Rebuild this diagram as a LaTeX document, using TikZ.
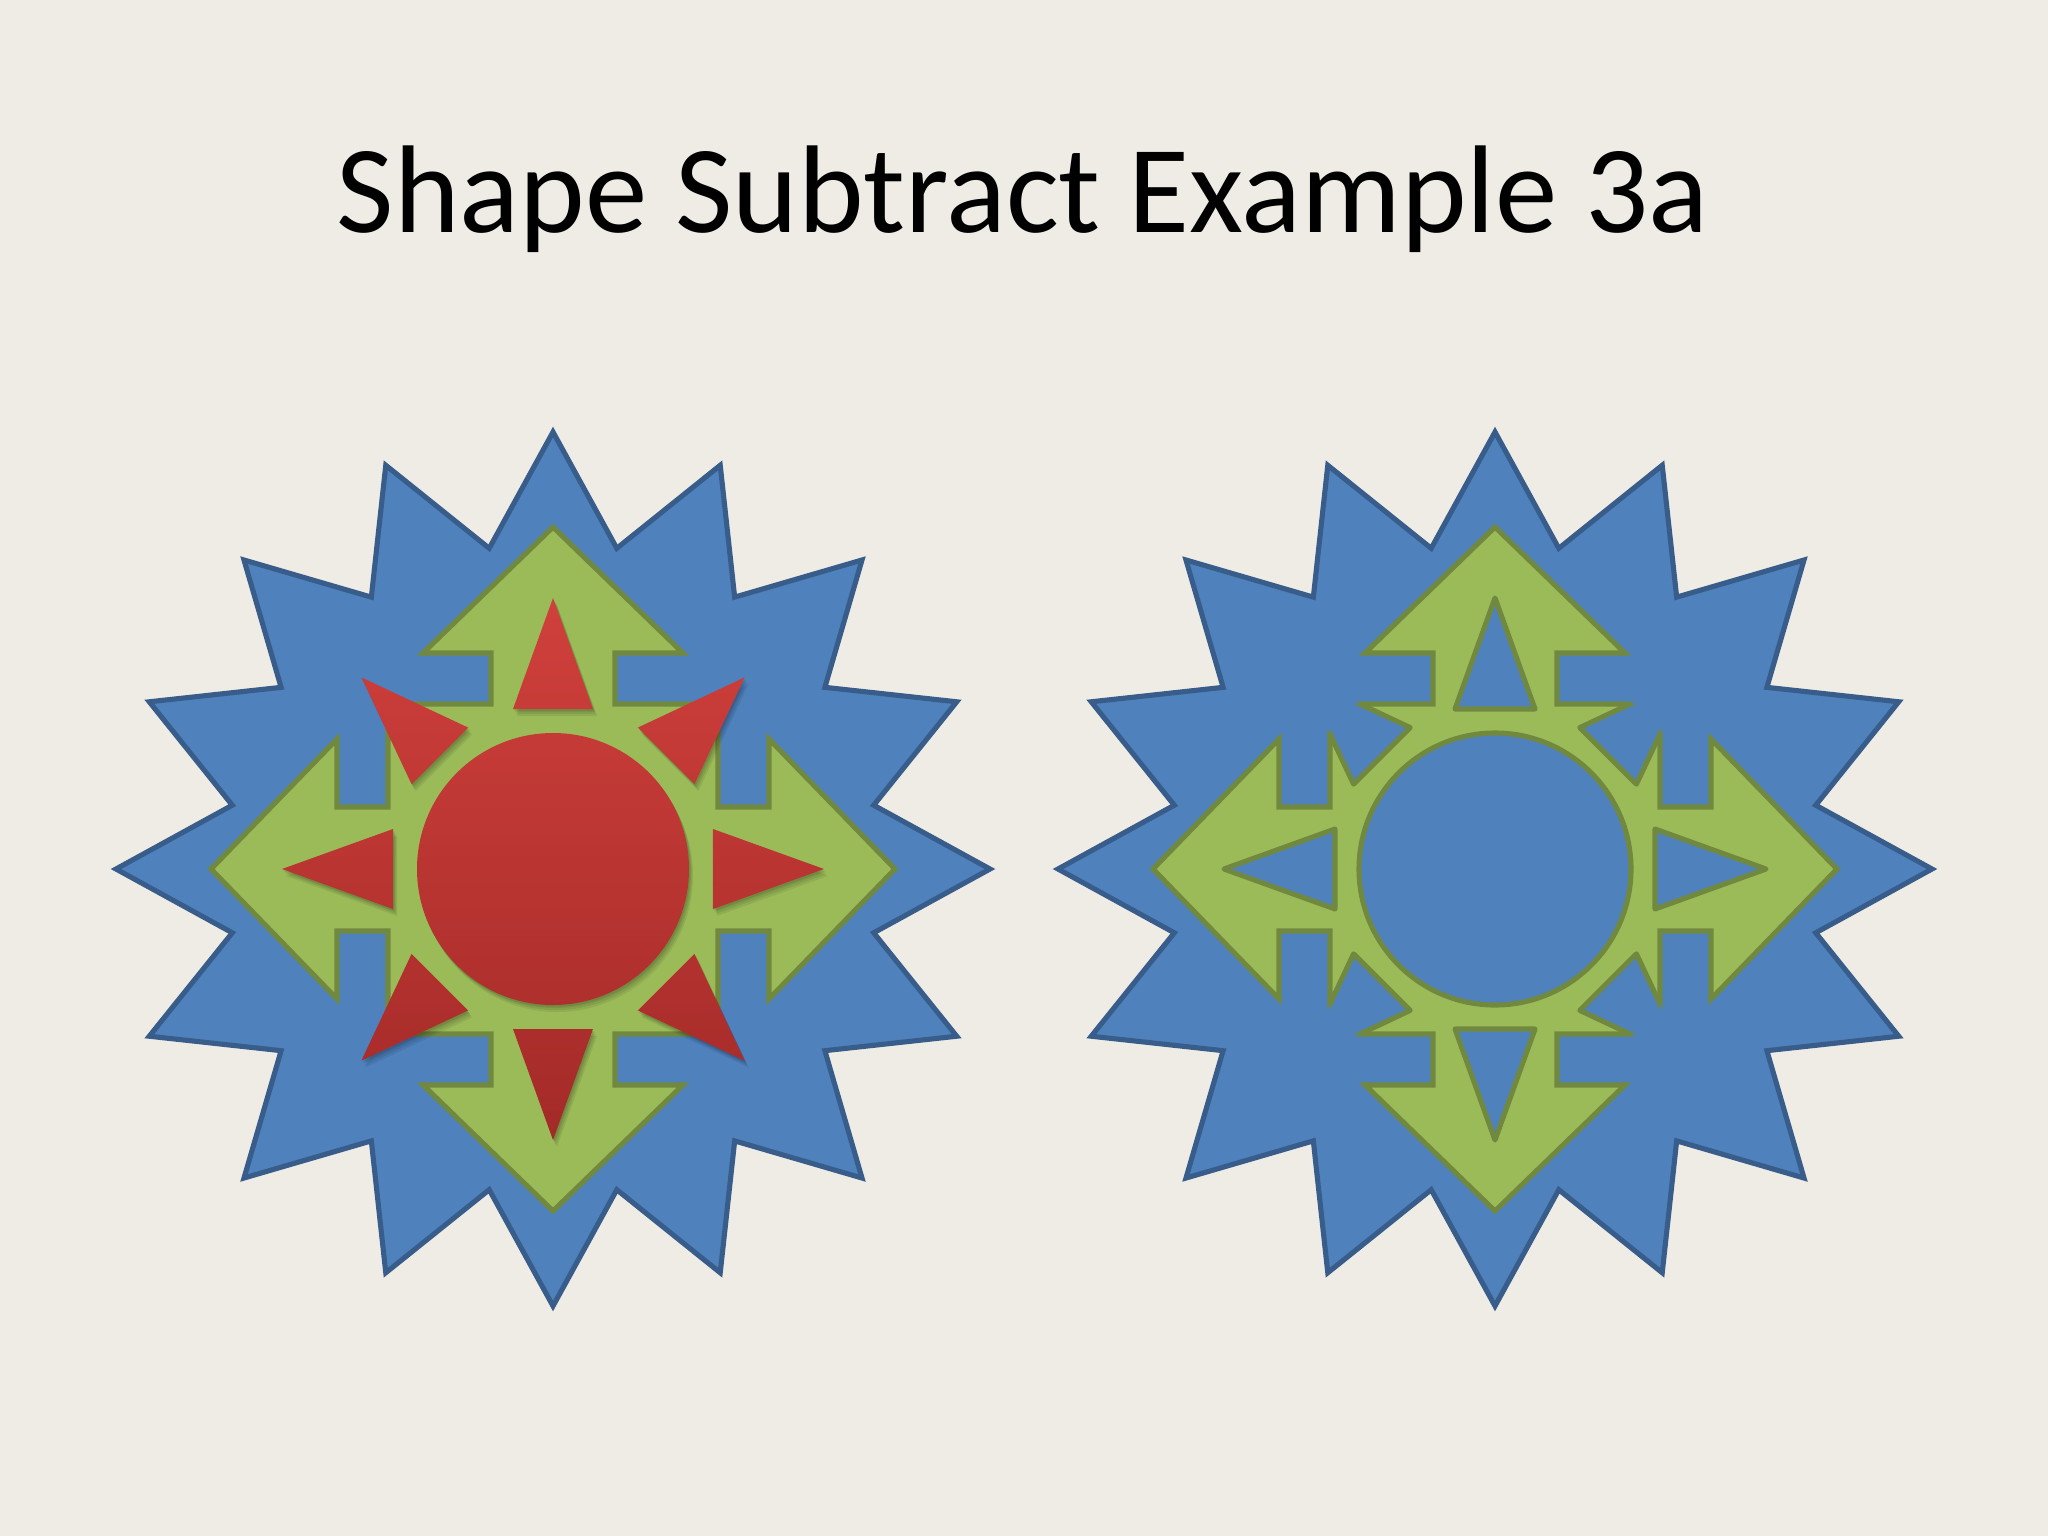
\documentclass[tikz,border=0pt]{standalone}
\usepackage{fontspec}
\setmainfont{Carlito}
\definecolor{bgcol}{RGB}{239,236,229}
\definecolor{starblue}{RGB}{79,129,189}
\definecolor{starline}{RGB}{56,93,138}
\definecolor{arrowgreen}{RGB}{155,187,89}
\definecolor{arrowline}{RGB}{113,137,63}
\definecolor{redtop}{RGB}{208,64,60}
\definecolor{redbot}{RGB}{163,42,40}
\newcommand\starP{(90:437) \foreach \i in {1,...,16} {-- (90+\i*22.5-11.25:327) -- (90+\i*22.5:437)} -- cycle}
\newcommand\greenP{(0,-342) -- (130,-216) -- (62,-216) -- (62,-165) -- (165,-165) -- (165,-62) -- (216,-62) -- (216,-130) -- (342,0) -- (216,130) -- (216,62) -- (165,62) -- (165,165) -- (62,165) -- (62,216) -- (130,216) -- (0,342) -- (-130,216) -- (-62,216) -- (-62,165) -- (-165,165) -- (-165,62) -- (-216,62) -- (-216,130) -- (-342,0) -- (-216,-130) -- (-216,-62) -- (-165,-62) -- (-165,-165) -- (-62,-165) -- (-62,-216) -- (-130,-216) -- cycle}
\newcommand\redP{(0,0) circle[radius=136] \foreach \a in {0,45,...,315} {(\a:271) -- (\a+14.04:164.92) -- (\a-14.04:164.92) -- cycle}}
\tikzset{
  starshape/.style={fill=starblue, draw=starline, line width=1.45pt, line join=miter},
  arrowshape/.style={fill=arrowgreen, draw=arrowline, line width=1.45pt, line join=miter},
  holefill/.style={fill=starblue},
  holeline/.style={draw=arrowline, line width=1.45pt, line join=round},
  redshape/.style={top color=redtop, bottom color=redbot, draw=none},
  shadowfill/.style={fill=black, opacity=0.07},
  titletext/.style={anchor=base, inner sep=0pt, font=\fontsize{35.5}{42}\selectfont, text=black}
}
\begin{document}
\begin{tikzpicture}[x=0.01cm, y=-0.01cm]
  \useasboundingbox (0,0) rectangle (2048,1536);
  \fill[bgcol] (0,0) rectangle (2048,1536);
  \node[titletext] (title) at (1023,232) {Shape Subtract Example 3a};
  % left figure
  \begin{scope}[shift={(553,869)}]
    \path[starshape] \starP;
    \path[arrowshape] \greenP;
    \foreach \dx/\dy in {1/2,2/3,3/5,4/7} {
      \begin{scope}[shift={(\dx,\dy)}]
        \path[shadowfill] \redP;
      \end{scope}
    }
    \shade[redshape] \redP;
  \end{scope}
  % right figure
  \begin{scope}[shift={(1495,869)}]
    \path[starshape] \starP;
    \path[arrowshape] \greenP;
    \path[holefill] \redP;
    \begin{scope}
      \clip \greenP;
      \path[holeline] \redP;
    \end{scope}
  \end{scope}
\end{tikzpicture}
\end{document}
